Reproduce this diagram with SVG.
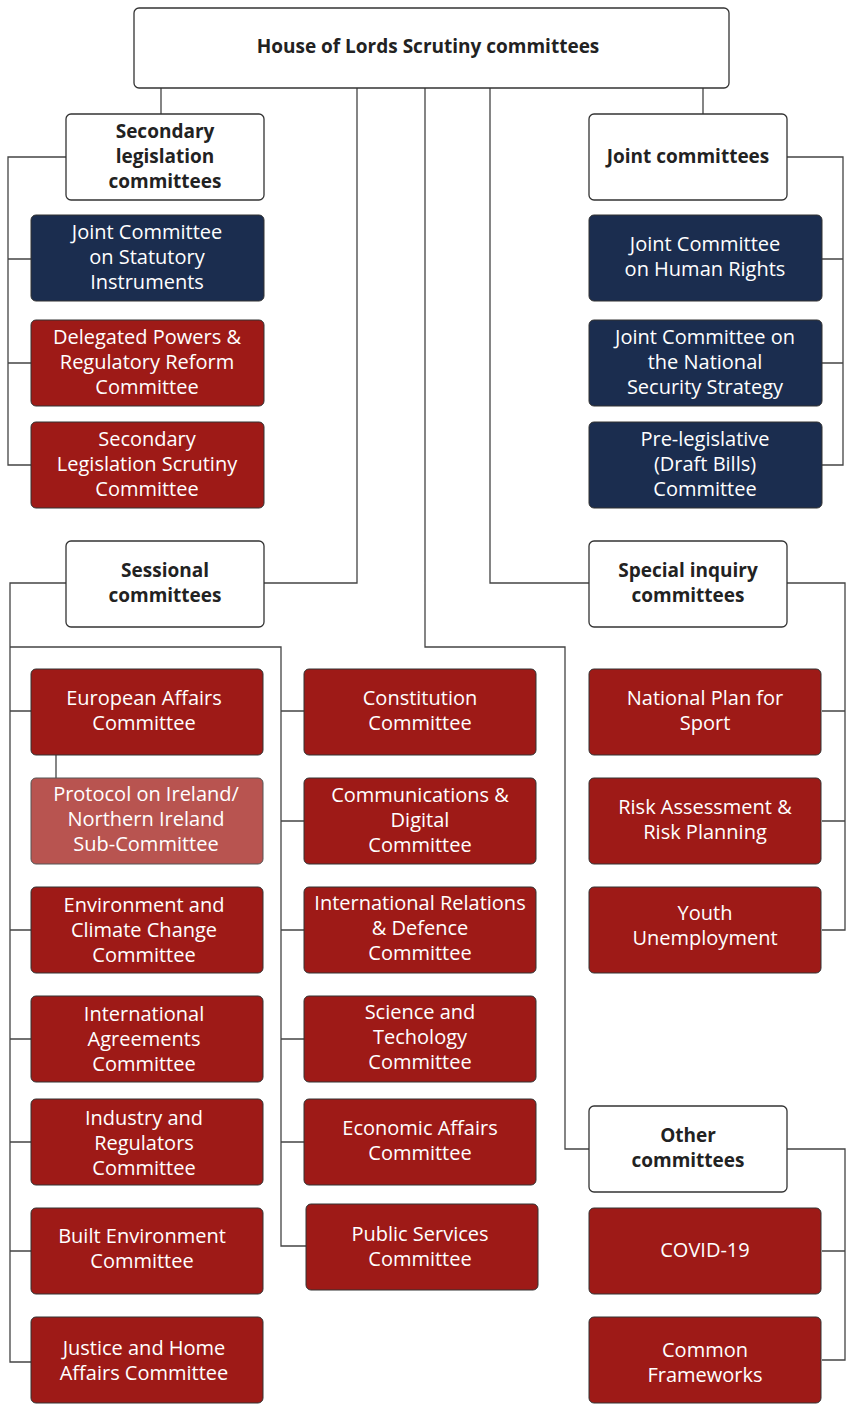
<svg xmlns="http://www.w3.org/2000/svg" width="852" height="1410" viewBox="0 0 852 1410">
<style>
.w{fill:#fff;stroke:#333;stroke-width:1.3}
.r{fill:#9e1a17;stroke:#333;stroke-width:1}
.n{fill:#1b2d4f;stroke:#333;stroke-width:1}
.p{fill:#b85450;stroke:#555;stroke-width:1}
text{font-family:"Open Sans","Liberation Sans",sans-serif;text-anchor:middle}
.t{fill:#fff;font-size:20px}
.b{fill:#222;font-size:19px;font-weight:bold}
#c path{fill:none;stroke:#444;stroke-width:1.3}
</style>
<rect width="852" height="1410" fill="#fff"/>
<g id="c">
<path d="M161 88V114M703 88V114M357 88V583H264M490 88V583H589M425 88V647H565V1149H589"/>
<path d="M66 157H8V465H31M8 259H31M8 363H31"/>
<path d="M787 157H843V465H822M843 259H822M843 363H822"/>
<path d="M66 583H10V1362H31M10 711H31M10 930H31M10 1039H31M10 1142H31M10 1251H31"/>
<path d="M10 647H281V1246H306M281 711H304M281 821H304M281 930H304M281 1039H304M281 1142H304"/>
<path d="M56 754V778"/>
<path d="M787 583H845V930H822M845 711H822M845 821H822"/>
<path d="M787 1149H845V1360H822M845 1251H822"/>
</g>
<g id="top"><rect class="w" x="134" y="8" width="595" height="80" rx="5"/><text class="b" x="428" y="53">House of Lords Scrutiny committees</text></g>
<g id="sec"><rect class="w" x="66" y="114" width="198" height="86" rx="5"/><text class="b" x="165" y="138">Secondary<tspan x="165" dy="25">legislation</tspan><tspan x="165" dy="25">committees</tspan></text></g>
<g id="jsi"><rect class="n" x="31" y="215" width="233" height="86" rx="5"/><text class="t" x="147" y="239">Joint Committee<tspan x="147" dy="25">on Statutory</tspan><tspan x="147" dy="25">Instruments</tspan></text></g>
<g id="dp"><rect class="r" x="31" y="320" width="233" height="86" rx="5"/><text class="t" x="147" y="344">Delegated Powers &amp;<tspan x="147" dy="25">Regulatory Reform</tspan><tspan x="147" dy="25">Committee</tspan></text></g>
<g id="sls"><rect class="r" x="31" y="422" width="233" height="86" rx="5"/><text class="t" x="147" y="446">Secondary<tspan x="147" dy="25">Legislation Scrutiny</tspan><tspan x="147" dy="25">Committee</tspan></text></g>
<g id="joint"><rect class="w" x="589" y="114" width="198" height="86" rx="5"/><text class="b" x="688" y="163">Joint committees</text></g>
<g id="jhr"><rect class="n" x="589" y="215" width="233" height="86" rx="5"/><text class="t" x="705" y="251">Joint Committee<tspan x="705" dy="25">on Human Rights</tspan></text></g>
<g id="jns"><rect class="n" x="589" y="320" width="233" height="86" rx="5"/><text class="t" x="705" y="344">Joint Committee on<tspan x="705" dy="25">the National</tspan><tspan x="705" dy="25">Security Strategy</tspan></text></g>
<g id="pre"><rect class="n" x="589" y="422" width="233" height="86" rx="5"/><text class="t" x="705" y="446">Pre-legislative<tspan x="705" dy="25">(Draft Bills)</tspan><tspan x="705" dy="25">Committee</tspan></text></g>
<g id="sess"><rect class="w" x="66" y="541" width="198" height="86" rx="5"/><text class="b" x="165" y="577">Sessional<tspan x="165" dy="25">committees</tspan></text></g>
<g id="spec"><rect class="w" x="589" y="541" width="198" height="86" rx="5"/><text class="b" x="688" y="577">Special inquiry<tspan x="688" dy="25">committees</tspan></text></g>
<g id="eu"><rect class="r" x="31" y="669" width="232" height="86" rx="5"/><text class="t" x="144" y="705">European Affairs<tspan x="144" dy="25">Committee</tspan></text></g>
<g id="prot"><rect class="p" x="31" y="778" width="232" height="86" rx="5"/><text class="t" x="146" y="801">Protocol on Ireland/<tspan x="146" dy="25">Northern Ireland</tspan><tspan x="146" dy="25">Sub-Committee</tspan></text></g>
<g id="env"><rect class="r" x="31" y="887" width="232" height="86" rx="5"/><text class="t" x="144" y="912">Environment and<tspan x="144" dy="25">Climate Change</tspan><tspan x="144" dy="25">Committee</tspan></text></g>
<g id="ia"><rect class="r" x="31" y="996" width="232" height="86" rx="5"/><text class="t" x="144" y="1021">International<tspan x="144" dy="25">Agreements</tspan><tspan x="144" dy="25">Committee</tspan></text></g>
<g id="ind"><rect class="r" x="31" y="1099" width="232" height="86" rx="5"/><text class="t" x="144" y="1125">Industry and<tspan x="144" dy="25">Regulators</tspan><tspan x="144" dy="25">Committee</tspan></text></g>
<g id="be"><rect class="r" x="31" y="1208" width="232" height="86" rx="5"/><text class="t" x="142" y="1243">Built Environment<tspan x="142" dy="25">Committee</tspan></text></g>
<g id="jha"><rect class="r" x="31" y="1317" width="232" height="86" rx="5"/><text class="t" x="144" y="1355">Justice and Home<tspan x="144" dy="25">Affairs Committee</tspan></text></g>
<g id="con"><rect class="r" x="304" y="669" width="232" height="86" rx="5"/><text class="t" x="420" y="705">Constitution<tspan x="420" dy="25">Committee</tspan></text></g>
<g id="com"><rect class="r" x="304" y="778" width="232" height="86" rx="5"/><text class="t" x="420" y="802">Communications &amp;<tspan x="420" dy="25">Digital</tspan><tspan x="420" dy="25">Committee</tspan></text></g>
<g id="ird"><rect class="r" x="304" y="887" width="232" height="86" rx="5"/><text class="t" x="420" y="910">International Relations<tspan x="420" dy="25">&amp; Defence</tspan><tspan x="420" dy="25">Committee</tspan></text></g>
<g id="sci"><rect class="r" x="304" y="996" width="232" height="86" rx="5"/><text class="t" x="420" y="1019">Science and<tspan x="420" dy="25">Techology</tspan><tspan x="420" dy="25">Committee</tspan></text></g>
<g id="eco"><rect class="r" x="304" y="1099" width="232" height="86" rx="5"/><text class="t" x="420" y="1135">Economic Affairs<tspan x="420" dy="25">Committee</tspan></text></g>
<g id="pub"><rect class="r" x="306" y="1204" width="232" height="86" rx="5"/><text class="t" x="420" y="1241">Public Services<tspan x="420" dy="25">Committee</tspan></text></g>
<g id="nps"><rect class="r" x="589" y="669" width="232" height="86" rx="5"/><text class="t" x="705" y="705">National Plan for<tspan x="705" dy="25">Sport</tspan></text></g>
<g id="risk"><rect class="r" x="589" y="778" width="232" height="86" rx="5"/><text class="t" x="705" y="814">Risk Assessment &amp;<tspan x="705" dy="25">Risk Planning</tspan></text></g>
<g id="youth"><rect class="r" x="589" y="887" width="232" height="86" rx="5"/><text class="t" x="705" y="920">Youth<tspan x="705" dy="25">Unemployment</tspan></text></g>
<g id="other"><rect class="w" x="589" y="1106" width="198" height="86" rx="5"/><text class="b" x="688" y="1142">Other<tspan x="688" dy="25">committees</tspan></text></g>
<g id="covid"><rect class="r" x="589" y="1208" width="232" height="86" rx="5"/><text class="t" x="705" y="1257">COVID-19</text></g>
<g id="cf"><rect class="r" x="589" y="1317" width="232" height="86" rx="5"/><text class="t" x="705" y="1357">Common<tspan x="705" dy="25">Frameworks</tspan></text></g>
</svg>
